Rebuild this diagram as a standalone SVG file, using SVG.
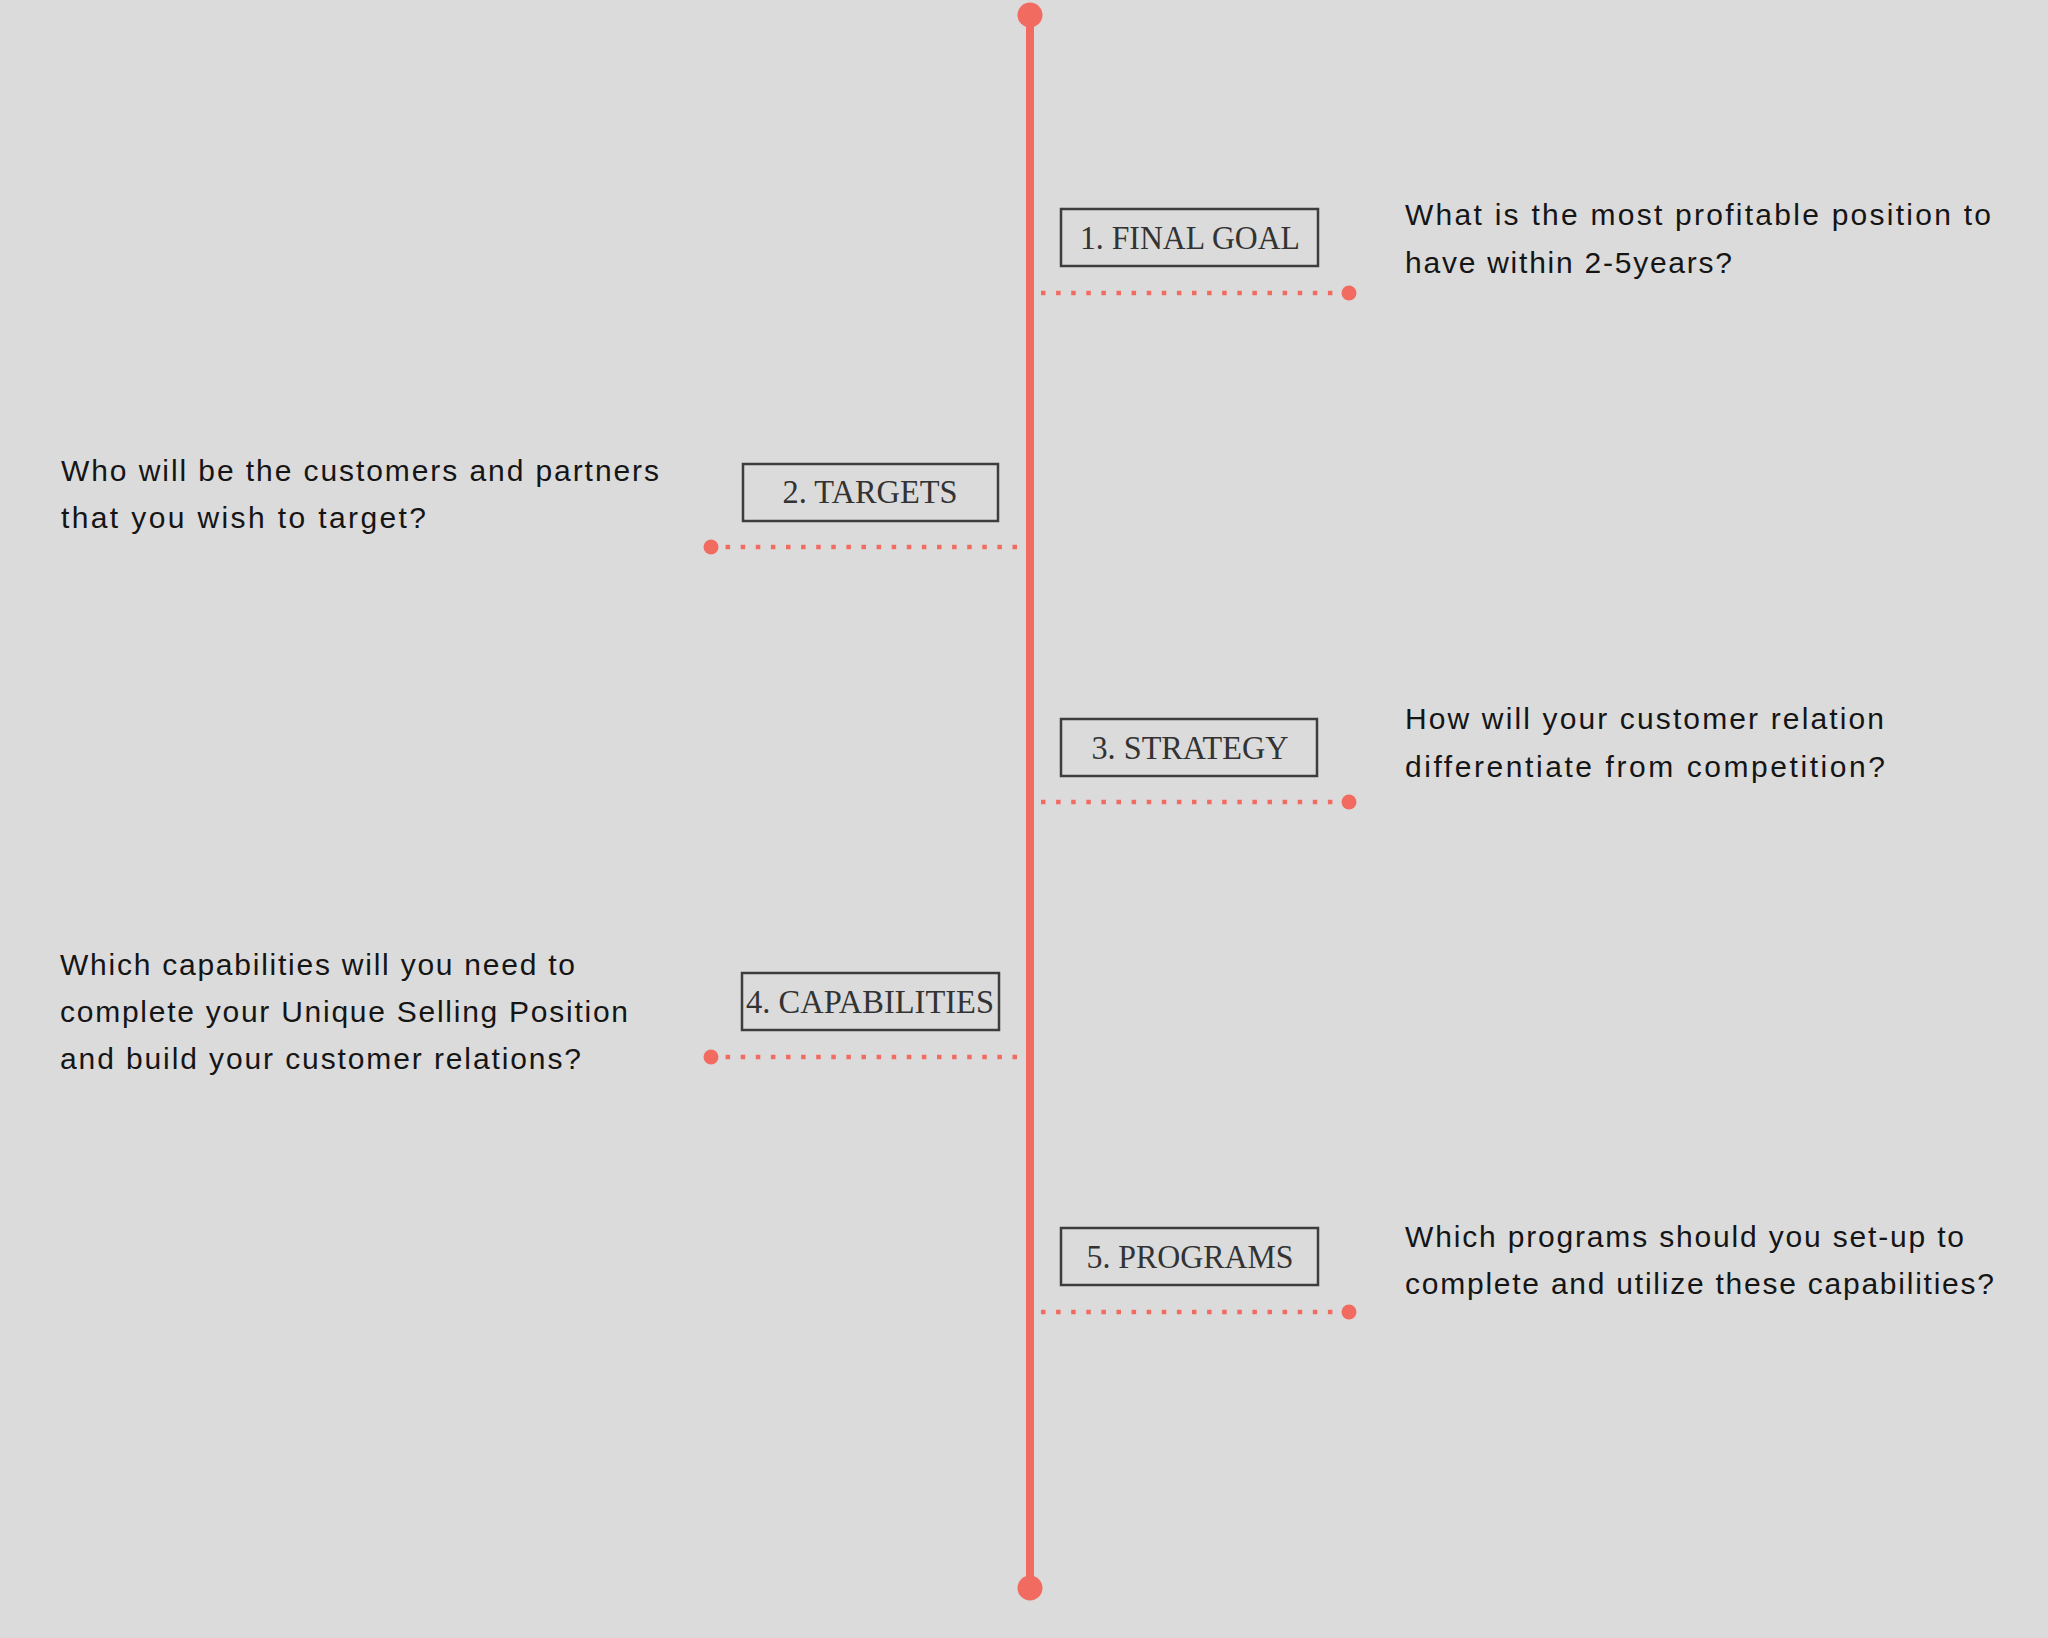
<svg xmlns="http://www.w3.org/2000/svg" width="2048" height="1638" viewBox="0 0 2048 1638">
  <defs>
    <style>
      .bg { fill: #dbdbdc; }
      .spine { stroke: #f26b61; stroke-width: 8; fill: none; }
      .dot { fill: #f26b61; }
      .dots { stroke: #f26b61; stroke-width: 4.5; stroke-dasharray: 4.5 10.6; fill: none; }
      .box { fill: none; stroke: #3d3d3d; stroke-width: 2.5; }
      .label { font-family: "Liberation Serif", "Times New Roman", serif; font-size: 33px; fill: #333333; text-anchor: middle; }
      .q { font-family: "Liberation Sans", Arial, sans-serif; font-size: 30px; fill: #151515; }
    </style>
  </defs>
  <rect class="bg" x="0" y="0" width="2048" height="1638"/>

  <g id="connectors">
    <line class="spine" x1="1030" y1="15" x2="1030" y2="1588"/>
    <circle class="dot" cx="1030" cy="15" r="12.5"/>
    <circle class="dot" cx="1030" cy="1588" r="12.5"/>
    <line class="dots" x1="1041" y1="293" x2="1340" y2="293"/>
    <circle class="dot" cx="1349" cy="293" r="7.5"/>
    <line class="dots" x1="1017" y1="547" x2="720" y2="547"/>
    <circle class="dot" cx="711" cy="547" r="7.5"/>
    <line class="dots" x1="1041" y1="802" x2="1340" y2="802"/>
    <circle class="dot" cx="1349" cy="802" r="7.5"/>
    <line class="dots" x1="1017" y1="1057" x2="720" y2="1057"/>
    <circle class="dot" cx="711" cy="1057" r="7.5"/>
    <line class="dots" x1="1041" y1="1312" x2="1340" y2="1312"/>
    <circle class="dot" cx="1349" cy="1312" r="7.5"/>
  </g>

  <g id="node-final-goal">
    <rect class="box" x="1061" y="209" width="257" height="57"/>
    <text class="label" x="1190" y="249" textLength="220" lengthAdjust="spacingAndGlyphs">1. FINAL GOAL</text>
    <text class="q" x="1405" y="225" textLength="586">What is the most profitable position to</text>
    <text class="q" x="1405" y="273" textLength="327">have within 2-5years?</text>
  </g>

  <g id="node-targets">
    <rect class="box" x="743" y="464" width="255" height="57"/>
    <text class="label" x="870" y="503" textLength="175" lengthAdjust="spacingAndGlyphs">2. TARGETS</text>
    <text class="q" x="61" y="481" textLength="598">Who will be the customers and partners</text>
    <text class="q" x="61" y="528" textLength="365">that you wish to target?</text>
  </g>

  <g id="node-strategy">
    <rect class="box" x="1061" y="719" width="256" height="57"/>
    <text class="label" x="1190" y="759" textLength="197" lengthAdjust="spacingAndGlyphs">3. STRATEGY</text>
    <text class="q" x="1405" y="729" textLength="479">How will your customer relation</text>
    <text class="q" x="1405" y="777" textLength="480">differentiate from competition?</text>
  </g>

  <g id="node-capabilities">
    <rect class="box" x="742" y="973" width="257" height="57"/>
    <text class="label" x="870" y="1013" textLength="248" lengthAdjust="spacingAndGlyphs">4. CAPABILITIES</text>
    <text class="q" x="60" y="975" textLength="515">Which capabilities will you need to</text>
    <text class="q" x="60" y="1022" textLength="568">complete your Unique Selling Position</text>
    <text class="q" x="60" y="1069" textLength="521">and build your customer relations?</text>
  </g>

  <g id="node-programs">
    <rect class="box" x="1061" y="1228" width="257" height="57"/>
    <text class="label" x="1190" y="1268" textLength="207" lengthAdjust="spacingAndGlyphs">5. PROGRAMS</text>
    <text class="q" x="1405" y="1247" textLength="559">Which programs should you set-up to</text>
    <text class="q" x="1405" y="1294" textLength="589">complete and utilize these capabilities?</text>
  </g>
</svg>
